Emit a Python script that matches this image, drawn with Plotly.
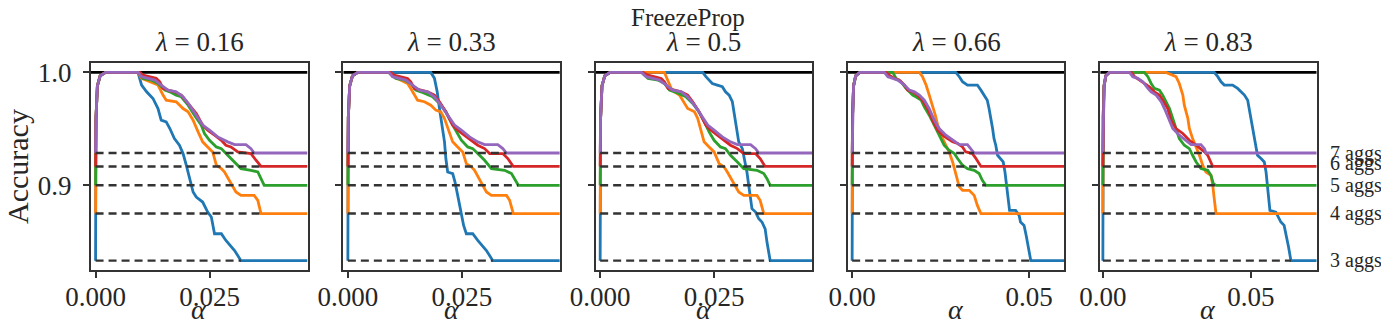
import plotly.graph_objects as go

# ---------------- data ----------------
LAMBDAS = ["0.16", "0.33", "0.5", "0.66", "0.83"]
AGG_COUNTS = [3, 4, 5, 6, 7]
AGG_LEVELS = [0.8333, 0.875, 0.9, 0.9167, 0.9286]
PERFECT_ACC = 1.0

# common steep rise right after alpha = 0 (first value is the series floor)
RISE_ALPHA = [0.0, 0.0001, 0.0004, 0.0010, 0.0022]
RISE_ACC = [0.96, 0.988, 0.997, 1.0]

ALPHA_MAX = [0.0465, 0.0465, 0.0465, 0.0600, 0.0722]
X_RANGES = [[-0.001, 0.0465], [-0.001, 0.0465], [-0.001, 0.0465], [-0.0012, 0.0600], [-0.0009, 0.0722]]
X_TICKVALS = [[0.0, 0.025], [0.0, 0.025], [0.0, 0.025], [0.0, 0.05], [0.0, 0.05]]
X_TICKTEXT = [["0.000", "0.025"], ["0.000", "0.025"], ["0.000", "0.025"], ["0.00", "0.05"], ["0.00", "0.05"]]
Y_TICKVALS = [0.9, 1.0]
Y_TICKTEXT = ["0.9", "1.0"]

# ---- lambda = 0.16 ----
L016_A3_ALPHA = [0.0093, 0.0101, 0.0112, 0.0126, 0.0137, 0.0144, 0.0155, 0.0163, 0.0173, 0.0184, 0.0192, 0.0199, 0.0206, 0.0214, 0.0221, 0.0235, 0.0246, 0.0254, 0.0261, 0.0276, 0.0286, 0.0305, 0.0319]
L016_A3_ACC = [1.0, 0.9888, 0.9828, 0.9769, 0.968, 0.9577, 0.9562, 0.9503, 0.9414, 0.9355, 0.9281, 0.9178, 0.9059, 0.8941, 0.8896, 0.8852, 0.8763, 0.8719, 0.8571, 0.8571, 0.8512, 0.8423, 0.8333]
L016_A4_ALPHA = [0.0093, 0.0101, 0.0119, 0.0137, 0.0148, 0.0155, 0.0177, 0.0192, 0.0203, 0.0214, 0.0225, 0.0235, 0.0246, 0.0257, 0.0265, 0.0276, 0.0283, 0.0294, 0.0301, 0.0308, 0.0319, 0.0348, 0.0356, 0.0363]
L016_A4_ACC = [1.0, 0.9947, 0.9917, 0.9888, 0.9799, 0.9754, 0.974, 0.968, 0.9651, 0.9577, 0.9473, 0.9385, 0.934, 0.9296, 0.9178, 0.9148, 0.9118, 0.9044, 0.9, 0.8941, 0.8911, 0.8911, 0.8867, 0.875]
L016_A5_ALPHA = [0.0093, 0.0104, 0.0122, 0.0137, 0.0152, 0.0163, 0.0177, 0.0188, 0.0203, 0.0217, 0.0232, 0.0239, 0.025, 0.0265, 0.0276, 0.029, 0.0305, 0.0319, 0.0341, 0.0356, 0.0363, 0.037]
L016_A5_ACC = [1.0, 0.9947, 0.9932, 0.9902, 0.9843, 0.9828, 0.9799, 0.9784, 0.971, 0.9621, 0.9533, 0.9459, 0.9399, 0.934, 0.9325, 0.9266, 0.9207, 0.9148, 0.9133, 0.9118, 0.9059, 0.9]
L016_A6_ALPHA = [0.0097, 0.0104, 0.0119, 0.0133, 0.0141, 0.0148, 0.0159, 0.0173, 0.0188, 0.0203, 0.0221, 0.0235, 0.0246, 0.0261, 0.0276, 0.0286, 0.0297, 0.0312, 0.0341, 0.0352, 0.0363]
L016_A6_ACC = [1.0, 0.9976, 0.9962, 0.9947, 0.9917, 0.9858, 0.9843, 0.9828, 0.9799, 0.9725, 0.9636, 0.9533, 0.9488, 0.9444, 0.9399, 0.9355, 0.934, 0.9296, 0.9281, 0.9222, 0.9167]
L016_A7_ALPHA = [0.0093, 0.0101, 0.0115, 0.013, 0.0144, 0.0159, 0.0177, 0.0192, 0.0206, 0.0221, 0.0235, 0.025, 0.0268, 0.029, 0.0305, 0.033, 0.0341, 0.0348]
L016_A7_ACC = [1.0, 0.9962, 0.9947, 0.9932, 0.9888, 0.9843, 0.9828, 0.9784, 0.971, 0.9621, 0.9533, 0.9488, 0.9429, 0.9385, 0.9361, 0.9361, 0.9325, 0.9286]

# ---- lambda = 0.33 ----
L033_A3_ALPHA = [0.0182, 0.019, 0.0196, 0.0201, 0.0206, 0.0212, 0.0215, 0.0219, 0.023, 0.0235, 0.0241, 0.0249, 0.0254, 0.026, 0.0274, 0.0285, 0.0304, 0.0318]
L033_A3_ACC = [1.0, 0.9947, 0.9828, 0.968, 0.9533, 0.9385, 0.9237, 0.9118, 0.9104, 0.903, 0.8911, 0.8763, 0.8645, 0.8571, 0.8571, 0.8512, 0.8423, 0.8333]
L033_A4_ALPHA = [0.009, 0.0101, 0.0116, 0.0131, 0.0138, 0.0146, 0.0153, 0.0168, 0.0182, 0.0193, 0.0204, 0.0212, 0.0219, 0.023, 0.0241, 0.0252, 0.026, 0.0271, 0.0278, 0.0289, 0.0296, 0.0304, 0.0315, 0.0348, 0.0355, 0.0363]
L033_A4_ACC = [1.0, 0.9962, 0.9932, 0.9902, 0.9858, 0.9799, 0.9754, 0.974, 0.971, 0.9666, 0.9651, 0.9592, 0.9503, 0.9385, 0.934, 0.9296, 0.9192, 0.9163, 0.9133, 0.9059, 0.9, 0.8941, 0.8911, 0.8911, 0.8867, 0.875]
L033_A5_ALPHA = [0.009, 0.0105, 0.0124, 0.0138, 0.0149, 0.016, 0.0175, 0.0186, 0.0201, 0.0215, 0.023, 0.0238, 0.0249, 0.0263, 0.0274, 0.0285, 0.03, 0.0315, 0.0344, 0.0359, 0.0366, 0.0374]
L033_A5_ACC = [1.0, 0.9947, 0.9932, 0.9902, 0.9843, 0.9828, 0.9799, 0.9784, 0.9725, 0.9651, 0.9533, 0.9473, 0.9399, 0.934, 0.9325, 0.9281, 0.9222, 0.9148, 0.9133, 0.9104, 0.9059, 0.9]
L033_A6_ALPHA = [0.0094, 0.0101, 0.0116, 0.0131, 0.0138, 0.0146, 0.016, 0.0175, 0.019, 0.0201, 0.0215, 0.023, 0.0241, 0.0256, 0.0271, 0.0285, 0.03, 0.0311, 0.034, 0.0351, 0.0363]
L033_A6_ACC = [1.0, 0.9976, 0.9962, 0.9947, 0.9917, 0.9858, 0.9843, 0.9828, 0.9799, 0.974, 0.9651, 0.9533, 0.9488, 0.9444, 0.9399, 0.9355, 0.9325, 0.9281, 0.9281, 0.9237, 0.9167]
L033_A7_ALPHA = [0.009, 0.0098, 0.0113, 0.0127, 0.0142, 0.0157, 0.0175, 0.019, 0.0204, 0.0219, 0.0234, 0.0249, 0.0267, 0.0285, 0.03, 0.0329, 0.034, 0.0348]
L033_A7_ACC = [1.0, 0.9962, 0.9947, 0.9932, 0.9888, 0.9843, 0.9828, 0.9784, 0.971, 0.9621, 0.9533, 0.9488, 0.9429, 0.9385, 0.9361, 0.9361, 0.9325, 0.9286]

# ---- lambda = 0.5 ----
L050_A3_ALPHA = [0.0225, 0.0232, 0.0239, 0.0246, 0.0257, 0.0268, 0.0275, 0.0283, 0.029, 0.0293, 0.0297, 0.0301, 0.0304, 0.0312, 0.0315, 0.0319, 0.0322, 0.0328, 0.0333, 0.0341, 0.0348, 0.0355, 0.0362, 0.0366, 0.037, 0.0373]
L050_A3_ACC = [1.0, 0.9962, 0.9932, 0.9902, 0.9888, 0.9873, 0.9828, 0.9799, 0.974, 0.9666, 0.9562, 0.9459, 0.9385, 0.9325, 0.9266, 0.9207, 0.9118, 0.8941, 0.8793, 0.8763, 0.8704, 0.8675, 0.8615, 0.8497, 0.8408, 0.8333]
L050_A4_ALPHA = [0.0141, 0.0145, 0.0152, 0.0156, 0.0163, 0.0174, 0.0181, 0.0192, 0.0207, 0.0214, 0.0221, 0.0228, 0.0239, 0.025, 0.0261, 0.0272, 0.0279, 0.029, 0.0297, 0.0304, 0.0315, 0.0344, 0.0351, 0.0359]
L050_A4_ACC = [1.0, 0.9962, 0.9902, 0.9858, 0.9828, 0.9799, 0.9754, 0.968, 0.9651, 0.9592, 0.9488, 0.9385, 0.934, 0.9296, 0.9192, 0.9163, 0.9118, 0.9044, 0.8985, 0.8941, 0.8911, 0.8911, 0.8867, 0.875]
L050_A5_ALPHA = [0.0091, 0.0105, 0.0127, 0.0141, 0.0152, 0.0163, 0.0178, 0.0188, 0.0203, 0.0217, 0.0232, 0.0239, 0.025, 0.0264, 0.0275, 0.0286, 0.0301, 0.0315, 0.0344, 0.0359, 0.0366, 0.0373]
L050_A5_ACC = [1.0, 0.9947, 0.9932, 0.9902, 0.9843, 0.9828, 0.9799, 0.9784, 0.9725, 0.9651, 0.9533, 0.9473, 0.9399, 0.934, 0.9325, 0.9266, 0.9207, 0.9148, 0.9133, 0.9104, 0.9059, 0.9]
L050_A6_ALPHA = [0.0094, 0.0105, 0.012, 0.0134, 0.0141, 0.0149, 0.0163, 0.0178, 0.0192, 0.0203, 0.0217, 0.0232, 0.0243, 0.0257, 0.0272, 0.0286, 0.0301, 0.0315, 0.0341, 0.0351, 0.0362]
L050_A6_ACC = [1.0, 0.9976, 0.9962, 0.9947, 0.9917, 0.9858, 0.9843, 0.9828, 0.9799, 0.974, 0.9651, 0.9533, 0.9488, 0.9444, 0.9399, 0.9355, 0.9325, 0.9281, 0.9281, 0.9237, 0.9167]
L050_A7_ALPHA = [0.0091, 0.0101, 0.0116, 0.013, 0.0145, 0.0159, 0.0178, 0.0192, 0.0207, 0.0221, 0.0236, 0.025, 0.0268, 0.0286, 0.0301, 0.033, 0.0341, 0.0348]
L050_A7_ACC = [1.0, 0.9962, 0.9947, 0.9932, 0.9888, 0.9843, 0.9828, 0.9784, 0.971, 0.9621, 0.9533, 0.9488, 0.9429, 0.9385, 0.9361, 0.9361, 0.9325, 0.9286]

# ---- lambda = 0.66 ----
L066_A3_ALPHA = [0.0293, 0.0303, 0.0312, 0.0326, 0.0354, 0.0364, 0.0373, 0.0382, 0.0387, 0.0392, 0.0397, 0.0401, 0.0406, 0.0411, 0.042, 0.0427, 0.0432, 0.0436, 0.0441, 0.0445, 0.0462, 0.0472, 0.0476, 0.0486, 0.0492, 0.0498, 0.0505]
L066_A3_ACC = [1.0, 0.9962, 0.9917, 0.9888, 0.9888, 0.9843, 0.9799, 0.9754, 0.968, 0.9607, 0.9503, 0.9414, 0.9355, 0.9266, 0.9237, 0.9207, 0.9118, 0.9, 0.8882, 0.8778, 0.8778, 0.8734, 0.8675, 0.8645, 0.8556, 0.8453, 0.8333]
L066_A4_ALPHA = [0.019, 0.0199, 0.0209, 0.0218, 0.0227, 0.0235, 0.0242, 0.0248, 0.0256, 0.0265, 0.0274, 0.0284, 0.0293, 0.0303, 0.0312, 0.0331, 0.0345, 0.0354, 0.0364]
L066_A4_ACC = [1.0, 0.9962, 0.9888, 0.9799, 0.971, 0.9621, 0.9533, 0.9473, 0.9414, 0.9355, 0.9296, 0.9207, 0.9089, 0.8985, 0.8956, 0.8956, 0.8911, 0.8822, 0.875]
L066_A5_ALPHA = [0.0115, 0.0124, 0.0138, 0.0152, 0.0162, 0.0171, 0.018, 0.0195, 0.0204, 0.0218, 0.0232, 0.0246, 0.026, 0.0274, 0.0289, 0.0298, 0.0312, 0.0326, 0.0345, 0.0359, 0.0368, 0.0378]
L066_A5_ACC = [1.0, 0.9947, 0.9917, 0.9858, 0.9828, 0.9799, 0.9784, 0.9754, 0.9695, 0.9621, 0.9533, 0.9444, 0.9355, 0.9311, 0.9281, 0.9237, 0.9178, 0.9148, 0.9133, 0.9104, 0.9044, 0.9]
L066_A6_ALPHA = [0.0096, 0.0105, 0.0119, 0.0133, 0.0148, 0.0157, 0.0171, 0.0185, 0.0199, 0.0213, 0.0227, 0.0242, 0.0256, 0.027, 0.0284, 0.0298, 0.0312, 0.0321, 0.034, 0.035, 0.0364]
L066_A6_ACC = [1.0, 0.9976, 0.9947, 0.9932, 0.9888, 0.9843, 0.9828, 0.9799, 0.9754, 0.968, 0.9577, 0.9488, 0.9444, 0.9414, 0.9385, 0.937, 0.934, 0.9296, 0.9281, 0.9237, 0.9167]
L066_A7_ALPHA = [0.0091, 0.0101, 0.0115, 0.0129, 0.0148, 0.0162, 0.0176, 0.019, 0.0204, 0.0218, 0.0232, 0.0246, 0.0265, 0.0284, 0.0303, 0.0326, 0.0336, 0.0345]
L066_A7_ACC = [1.0, 0.9962, 0.9947, 0.9932, 0.9888, 0.9843, 0.9828, 0.9799, 0.9754, 0.968, 0.9577, 0.9503, 0.9444, 0.9399, 0.9361, 0.9361, 0.9325, 0.9286]

# ---- lambda = 0.83 ----
L083_A3_ALPHA = [0.0376, 0.0388, 0.0399, 0.041, 0.0438, 0.0455, 0.0466, 0.0478, 0.0489, 0.0494, 0.05, 0.0506, 0.0511, 0.0517, 0.0522, 0.0534, 0.0545, 0.0551, 0.0556, 0.056, 0.0564, 0.0584, 0.0593, 0.0601, 0.0612, 0.062, 0.0627, 0.0635]
L083_A3_ACC = [1.0, 0.9962, 0.9917, 0.9888, 0.9888, 0.9858, 0.9828, 0.9799, 0.9754, 0.968, 0.9607, 0.9503, 0.9414, 0.9355, 0.9266, 0.9237, 0.9207, 0.9118, 0.9, 0.8882, 0.8778, 0.8763, 0.8719, 0.8675, 0.8645, 0.8556, 0.8453, 0.8333]
L083_A4_ALPHA = [0.0213, 0.0247, 0.0258, 0.027, 0.0275, 0.0287, 0.0292, 0.0303, 0.0315, 0.0326, 0.0337, 0.0348, 0.0365, 0.0371, 0.0376, 0.0382]
L083_A4_ACC = [1.0, 0.9962, 0.9902, 0.9799, 0.971, 0.9592, 0.9503, 0.9414, 0.934, 0.9266, 0.9178, 0.9118, 0.9089, 0.9, 0.8882, 0.875]
L083_A5_ALPHA = [0.014, 0.0152, 0.0163, 0.0174, 0.0191, 0.0202, 0.0213, 0.0225, 0.0236, 0.0247, 0.0258, 0.0275, 0.0292, 0.0303, 0.0315, 0.0331, 0.0354, 0.0365, 0.0373, 0.0382]
L083_A5_ACC = [1.0, 0.9962, 0.9902, 0.9858, 0.9843, 0.9799, 0.974, 0.968, 0.9592, 0.9503, 0.9414, 0.9355, 0.9325, 0.9266, 0.9207, 0.9148, 0.9133, 0.9089, 0.9015, 0.9]
L083_A6_ALPHA = [0.0096, 0.0107, 0.0124, 0.014, 0.0157, 0.0174, 0.0191, 0.0202, 0.0219, 0.023, 0.0247, 0.027, 0.0292, 0.0315, 0.0331, 0.0343, 0.0354, 0.0365, 0.0371]
L083_A6_ACC = [1.0, 0.9962, 0.9932, 0.9902, 0.9873, 0.9828, 0.9799, 0.9754, 0.968, 0.9577, 0.9503, 0.9459, 0.9399, 0.9355, 0.9325, 0.9296, 0.9266, 0.9192, 0.9167]
L083_A7_ALPHA = [0.009, 0.0101, 0.0118, 0.0135, 0.0152, 0.0163, 0.018, 0.0197, 0.0208, 0.0219, 0.0236, 0.0258, 0.0281, 0.0298, 0.0331, 0.0343, 0.0348]
L083_A7_ACC = [1.0, 0.9962, 0.9947, 0.9917, 0.9858, 0.9828, 0.9799, 0.974, 0.968, 0.9607, 0.9503, 0.9444, 0.9399, 0.9361, 0.9361, 0.9325, 0.9286]

PANELS = [
    [(L016_A3_ALPHA, L016_A3_ACC), (L016_A4_ALPHA, L016_A4_ACC), (L016_A5_ALPHA, L016_A5_ACC), (L016_A6_ALPHA, L016_A6_ACC), (L016_A7_ALPHA, L016_A7_ACC)],
    [(L033_A3_ALPHA, L033_A3_ACC), (L033_A4_ALPHA, L033_A4_ACC), (L033_A5_ALPHA, L033_A5_ACC), (L033_A6_ALPHA, L033_A6_ACC), (L033_A7_ALPHA, L033_A7_ACC)],
    [(L050_A3_ALPHA, L050_A3_ACC), (L050_A4_ALPHA, L050_A4_ACC), (L050_A5_ALPHA, L050_A5_ACC), (L050_A6_ALPHA, L050_A6_ACC), (L050_A7_ALPHA, L050_A7_ACC)],
    [(L066_A3_ALPHA, L066_A3_ACC), (L066_A4_ALPHA, L066_A4_ACC), (L066_A5_ALPHA, L066_A5_ACC), (L066_A6_ALPHA, L066_A6_ACC), (L066_A7_ALPHA, L066_A7_ACC)],
    [(L083_A3_ALPHA, L083_A3_ACC), (L083_A4_ALPHA, L083_A4_ACC), (L083_A5_ALPHA, L083_A5_ACC), (L083_A6_ALPHA, L083_A6_ACC), (L083_A7_ALPHA, L083_A7_ACC)],
]

# ---------------- style ----------------
COLORS = ["#1f77b4", "#ff7f0e", "#2ca02c", "#d62728", "#9467bd"]
FONT = "Liberation Serif, DejaVu Serif, serif"
TXT = "#262626"
PAGE_W, PAGE_H = 1389, 327
BODY_MARGIN = 8                      # default <body> margin of the html page
W, H = PAGE_W - BODY_MARGIN, PAGE_H - BODY_MARGIN
PANEL_LEFT0, PANEL_PITCH, PANEL_W = 91.0, 252.3, 216.5   # page pixels
PLOT_TOP, PLOT_BOTTOM = 63.0, 270.0
Y_RANGE = [0.825, 1.00833]


def px(xp):
    return (xp - BODY_MARGIN) / W


def py(yp):
    return 1 - (yp - BODY_MARGIN) / H


fig = go.Figure()
layout = dict(
    width=W, height=H, autosize=False,
    margin=dict(l=0, r=0, t=0, b=0, autoexpand=False),
    paper_bgcolor="white", plot_bgcolor="white",
    showlegend=False,
)
annotations = []

for i in range(5):
    sx = "" if i == 0 else str(i + 1)
    xname, yname = "x" + sx, "y" + sx
    left = PANEL_LEFT0 + PANEL_PITCH * i
    dom = [px(left), px(left + PANEL_W)]

    # reference line at perfect accuracy
    fig.add_trace(go.Scatter(x=X_RANGES[i], y=[PERFECT_ACC, PERFECT_ACC], mode="lines",
                             line=dict(color="black", width=2.8), xaxis=xname, yaxis=yname,
                             hoverinfo="skip"))
    corners = []
    for k, (alpha, acc) in enumerate(PANELS[i]):
        floor = AGG_LEVELS[k]
        xs = RISE_ALPHA + list(alpha) + [ALPHA_MAX[i]]
        ys = [floor] + RISE_ACC + list(acc) + [floor]
        corners.append(alpha[-1])
        fig.add_trace(go.Scatter(x=xs, y=ys, mode="lines",
                                 line=dict(color=COLORS[k], width=2.8),
                                 xaxis=xname, yaxis=yname,
                                 name=f"{AGG_COUNTS[k]} aggs"))
    for k, lvl in enumerate(AGG_LEVELS):
        fig.add_trace(go.Scatter(x=[0.0, corners[k]], y=[lvl, lvl], mode="lines",
                                 line=dict(color="#333333", width=2.4, dash="8px,5px"),
                                 xaxis=xname, yaxis=yname, hoverinfo="skip"))

    axcommon = dict(showline=True, mirror=True, linecolor="#333333", linewidth=2,
                    ticks="outside", ticklen=6, tickwidth=1.5, tickcolor="#333333",
                    showgrid=False, zeroline=False, automargin=False,
                    tickfont=dict(family=FONT, size=27, color=TXT))
    layout["xaxis" + sx] = dict(axcommon, domain=dom, range=X_RANGES[i], anchor=yname,
                                tickvals=X_TICKVALS[i], ticktext=X_TICKTEXT[i],
                                ticklabelstandoff=-4)
    layout["yaxis" + sx] = dict(axcommon, domain=[py(PLOT_BOTTOM), py(PLOT_TOP)],
                                range=Y_RANGE, anchor=xname,
                                tickvals=Y_TICKVALS, ticktext=Y_TICKTEXT,
                                showticklabels=(i == 0), ticklabelstandoff=6)

    annotations.append(dict(text=f"<i>λ</i> = {LAMBDAS[i]}", xref=xname + " domain", yref="paper",
                            x=0.5, y=py(42), xanchor="center", yanchor="middle",
                            showarrow=False, font=dict(family=FONT, size=27, color=TXT)))
    annotations.append(dict(text="<i>α</i>", xref=xname + " domain", yref="paper",
                            x=0.5, y=0, xanchor="center", yanchor="bottom",
                            showarrow=False, font=dict(family=FONT, size=28, color=TXT)))

annotations.append(dict(text="FreezeProp", xref="paper", yref="paper", x=px(688), y=py(17),
                        xanchor="center", yanchor="middle", showarrow=False,
                        font=dict(family=FONT, size=25, color=TXT)))
annotations.append(dict(text="Accuracy", xref="paper", yref="paper", x=px(17), y=py(167),
                        xanchor="center", yanchor="middle", textangle=-90, showarrow=False,
                        font=dict(family=FONT, size=30, color=TXT)))
for k, lvl in enumerate(AGG_LEVELS):
    annotations.append(dict(text=f"{AGG_COUNTS[k]} aggs", xref="x5 domain", yref="y5",
                            x=1.05, y=lvl, xanchor="left", yanchor="middle", showarrow=False,
                            yshift=3 if AGG_COUNTS[k] == 6 else 0,
                            font=dict(family=FONT, size=20, color=TXT)))

layout["annotations"] = annotations
fig.update_layout(**layout)
fig.write_html("out.html")
